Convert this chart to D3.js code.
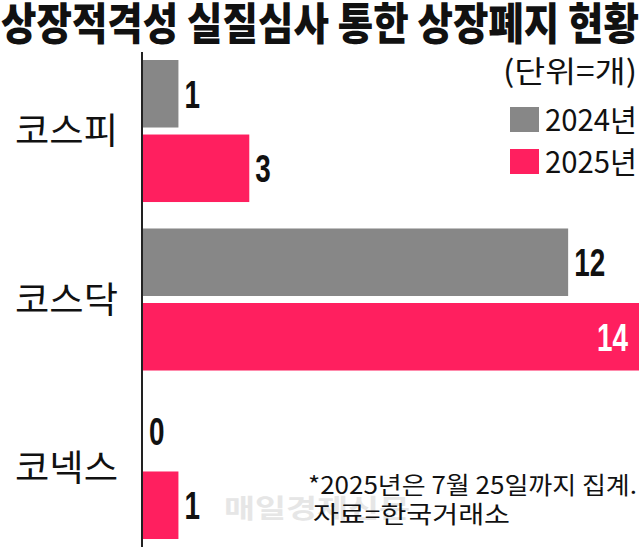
<!DOCTYPE html>
<html><head><meta charset="utf-8">
<script src="https://cdn.jsdelivr.net/npm/d3@7"></script>
<style>body{margin:0;background:#fff}svg{display:block}</style>
</head><body>
<script>
const categories = ["코스피", "코스닥", "코넥스"];
const seriesNames = ["2024년", "2025년"];
const values2024 = [1, 12, 0];
const values2025 = [3, 14, 1];
const colors = ["#878787", "#ff1f5f"];
const title = "상장적격성 실질심사 통한 상장폐지 현황";
const unitLabel = "(단위=개)";
const note1 = "*2025년은 7월 25일까지 집계.";
const note2 = "자료=한국거래소";
const watermark = "매일경제신문";

const W = 641, H = 547;
const svg = d3.select("body").append("svg").attr("width", W).attr("height", H);
const kr = "'Noto Sans CJK KR', 'Noto Sans', sans-serif";
const num = "'Liberation Sans', 'Roboto', sans-serif";

const data = categories.map((c, i) => ({cat: c, vals: [values2024[i], values2025[i]]}));

const y0 = d3.scaleBand().domain(categories).range([60, 539]).paddingInner(0.157).paddingOuter(0);
const y1 = d3.scaleBand().domain(seriesNames).range([0, y0.bandwidth()]).paddingInner(0.094);
const x = d3.scaleLinear().domain([0, 14]).range([143, 639]);

// watermark
svg.append("text").attr("x", 224).attr("y", 518).attr("font-family", kr).attr("font-weight", 700)
  .attr("font-size", 26).attr("fill", "#e6e6e6").attr("textLength", 186).attr("lengthAdjust", "spacingAndGlyphs")
  .text(watermark);

// title
svg.append("text").attr("x", 1).attr("y", 40).attr("font-family", kr).attr("font-weight", 900)
  .attr("font-size", 44).attr("fill", "#111").attr("textLength", 638).attr("lengthAdjust", "spacingAndGlyphs")
  .text(title);

// unit
svg.append("text").attr("x", 637).attr("y", 82).attr("text-anchor", "end").attr("font-family", kr)
  .attr("font-size", 30).attr("fill", "#111").attr("textLength", 134).attr("lengthAdjust", "spacingAndGlyphs")
  .text(unitLabel);

// legend
seriesNames.forEach((s, i) => {
  const ly = 107 + i * 42;
  svg.append("rect").attr("x", 510).attr("y", ly).attr("width", 29).attr("height", 25).attr("fill", colors[i]);
  svg.append("text").attr("x", 545).attr("y", ly + 24).attr("font-family", kr).attr("font-size", 30)
    .attr("fill", "#111").attr("textLength", 92).attr("lengthAdjust", "spacingAndGlyphs").text(s);
});

// category labels
svg.selectAll("text.cat").data(categories).join("text").attr("class", "cat")
  .attr("x", 15).attr("y", d => y0(d) + y0.bandwidth() / 2 + 13)
  .attr("font-family", kr).attr("font-size", 36).attr("fill", "#111")
  .attr("textLength", 103).attr("lengthAdjust", "spacingAndGlyphs").text(d => d);

// bars
const g = svg.selectAll("g.grp").data(data).join("g").attr("class", "grp")
  .attr("transform", d => `translate(0,${y0(d.cat)})`);
g.selectAll("rect").data(d => d.vals.map((v, i) => ({v, i, s: seriesNames[i]}))).join("rect")
  .attr("x", x(0)).attr("y", d => y1(d.s)).attr("width", d => x(d.v) - x(0)).attr("height", y1.bandwidth())
  .attr("fill", d => colors[d.i]);
g.selectAll("text").data(d => d.vals.map((v, i) => ({v, i, s: seriesNames[i]}))).join("text")
  .attr("x", d => d.v === 14 ? x(d.v) - 11 : x(d.v) + 6)
  .attr("text-anchor", d => d.v === 14 ? "end" : "start")
  .attr("y", d => y1(d.s) + y1.bandwidth() / 2 + 14)
  .attr("font-family", num).attr("font-weight", 700).attr("font-size", 38)
  .attr("textLength", d => String(d.v).length * 15.5).attr("lengthAdjust", "spacingAndGlyphs")
  .attr("fill", d => d.v === 14 ? "#fff" : "#111").text(d => d.v);

// axis line
svg.append("line").attr("x1", 142).attr("x2", 142).attr("y1", 52).attr("y2", H)
  .attr("stroke", "#222").attr("stroke-width", 2);

// notes
svg.append("text").attr("x", 637).attr("y", 494).attr("text-anchor", "end").attr("font-family", kr)
  .attr("font-size", 24).attr("fill", "#111").attr("textLength", 329).attr("lengthAdjust", "spacingAndGlyphs").text(note1);
svg.append("text").attr("x", 313).attr("y", 523).attr("font-family", kr)
  .attr("font-size", 24).attr("fill", "#111").attr("textLength", 197).attr("lengthAdjust", "spacingAndGlyphs").text(note2);
</script>
</body></html>
